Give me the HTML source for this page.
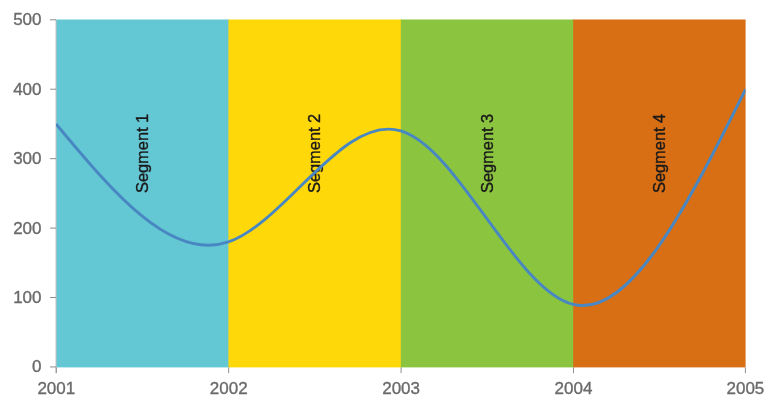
<!DOCTYPE html>
<html><head><meta charset="utf-8"><title>Chart</title>
<style>
html,body{margin:0;padding:0;background:#fff;}
body{width:768px;height:415px;overflow:hidden;}
svg{display:block;filter:blur(0.35px);}
text{font-family:"Liberation Sans",sans-serif;}
.al{font-size:17px;fill:#6a6a6a;stroke:#6a6a6a;stroke-width:0.35;}
.sl{font-size:16.4px;fill:#1a1a1a;stroke:#1a1a1a;stroke-width:0.4;}
.tk{stroke:#8e8e8e;stroke-width:1;}
</style></head><body>
<svg width="768" height="415" viewBox="0 0 768 415">
<rect width="768" height="415" fill="#fff"/>
<rect x="56.00" y="19.5" width="173.40" height="347.90" fill="#64C8D4"/>
<rect x="228.40" y="19.5" width="173.40" height="347.90" fill="#FFD80A"/>
<rect x="400.80" y="19.5" width="173.40" height="347.90" fill="#8BC53F"/>
<rect x="573.20" y="19.5" width="172.40" height="347.90" fill="#D96F14"/>

<line x1="56.0" x2="56.0" y1="19.5" y2="373.15" stroke="#c4c0c0" stroke-width="1"/>
<line x1="50" x2="56.0" y1="366.95" y2="366.95" class="tk"/>
<text class="al" x="41.5" y="372.45" text-anchor="end">0</text>
<line x1="50" x2="56.0" y1="297.52" y2="297.52" class="tk"/>
<text class="al" x="41.5" y="303.02" text-anchor="end">100</text>
<line x1="50" x2="56.0" y1="228.09" y2="228.09" class="tk"/>
<text class="al" x="41.5" y="233.59" text-anchor="end">200</text>
<line x1="50" x2="56.0" y1="158.66" y2="158.66" class="tk"/>
<text class="al" x="41.5" y="164.16" text-anchor="end">300</text>
<line x1="50" x2="56.0" y1="89.23" y2="89.23" class="tk"/>
<text class="al" x="41.5" y="94.73" text-anchor="end">400</text>
<line x1="50" x2="56.0" y1="19.80" y2="19.80" class="tk"/>
<text class="al" x="41.5" y="25.30" text-anchor="end">500</text>
<line x1="56.30" x2="56.30" y1="367.4" y2="373.15" class="tk"/>
<text class="al" x="56.30" y="394.3" text-anchor="middle">2001</text>
<line x1="228.70" x2="228.70" y1="367.4" y2="373.15" class="tk"/>
<text class="al" x="228.70" y="394.3" text-anchor="middle">2002</text>
<line x1="401.10" x2="401.10" y1="367.4" y2="373.15" class="tk"/>
<text class="al" x="401.10" y="394.3" text-anchor="middle">2003</text>
<line x1="573.50" x2="573.50" y1="367.4" y2="373.15" class="tk"/>
<text class="al" x="573.50" y="394.3" text-anchor="middle">2004</text>
<line x1="745.40" x2="745.40" y1="367.4" y2="373.15" class="tk"/>
<text class="al" x="745.40" y="394.3" text-anchor="middle">2005</text>

<text class="sl" transform="translate(147.80,153.4) rotate(-90)" text-anchor="middle">Segment 1</text>
<text class="sl" transform="translate(320.20,153.4) rotate(-90)" text-anchor="middle">Segment 2</text>
<text class="sl" transform="translate(492.60,153.4) rotate(-90)" text-anchor="middle">Segment 3</text>
<text class="sl" transform="translate(665.00,153.4) rotate(-90)" text-anchor="middle">Segment 4</text>

<clipPath id="cp"><rect x="56.0" y="19.5" width="689.60" height="347.90"/></clipPath>
<path d="M56.00,123.95 C113.47,192.84 170.93,261.73 228.40,241.98 C285.87,222.22 343.33,113.82 400.80,130.89 C458.27,147.96 515.73,290.49 573.20,304.46 C630.67,318.43 688.13,203.83 745.60,89.23" fill="none" stroke="#4887C2" stroke-width="2.9" clip-path="url(#cp)"/>
</svg>
</body></html>
